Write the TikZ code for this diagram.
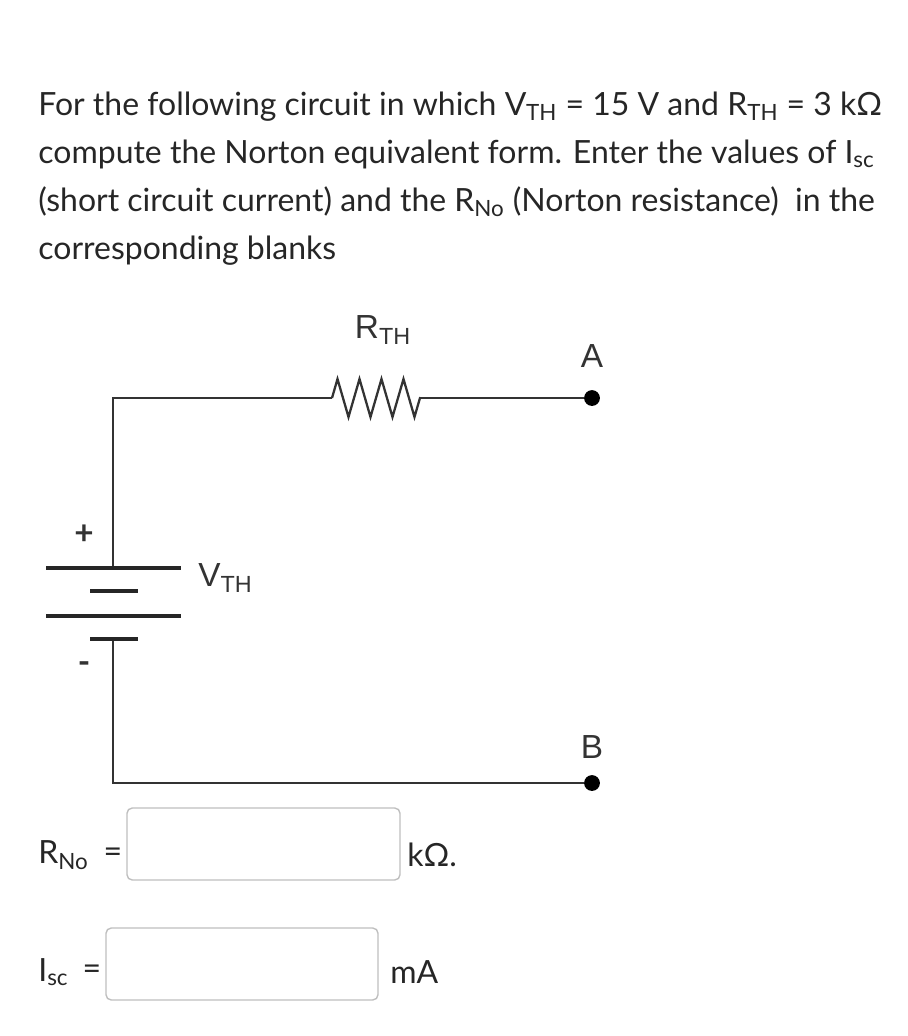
\documentclass[tikz,border=0pt]{standalone}
\usepackage{fontspec}
\setmainfont{Lato}
\newfontfamily\arialfont{Liberation Sans}
\usetikzlibrary{decorations.pathmorphing}

\begin{document}
\begin{tikzpicture}[x=0.02cm, y=-0.02cm]
        \tikzstyle{line} = [anchor=base west, inner sep=0pt, font=\fontsize{18.2}{22}\selectfont, text=black!85]
        \tikzstyle{lbl} = [inner sep=0pt, font=\fontsize{19}{22}\selectfont\arialfont, text=black!80]
        \tikzstyle{wire} = [line width=1.3pt, black!80]
        \tikzstyle{plate} = [line width=2.8pt, black!85]
        \tikzstyle{term} = [circle, fill=black, inner sep=0pt, minimum size=9pt]
        \tikzstyle{blank} = [draw=black!25, line width=0.8pt, rounded corners=3pt]
        \useasboundingbox (0,0) rectangle (908,1036);
        % question
        \node[line] (q1) at (38,115) {For the following circuit in which V\textsubscript{TH} = 15 V and R\textsubscript{TH} = 3 kΩ};
        \node[line] (q2) at (38,163) {compute the Norton equivalent form. Enter the values of I\textsubscript{sc}};
        \node[line] (q3) at (38,211) {(short circuit current) and the R\textsubscript{No} (Norton resistance)\ \ in the};
        \node[line] (q4) at (38,259) {corresponding blanks};
        % circuit
        \coordinate (tl) at (113,398);
        \coordinate (bl) at (113,783);
        \coordinate (r1) at (332,398);
        \coordinate (r2) at (420,398);
        \node[term] (A) at (592,398) {};
        \node[term] (B) at (592,783) {};
        \coordinate (p1) at (113,568);
        \coordinate (p4) at (113,639);
        \draw[wire] (p1) -- (tl) -- (r1);
        \draw[wire, decorate, decoration={zigzag, segment length=0.44cm, amplitude=0.38cm}] (r1) -- (r2);
        \draw[wire] (r2) -- (A);
        \draw[wire] (p4) -- (bl) -- (B);
        \draw[plate] (46,568) -- (181,568);
        \draw[plate] (90,591) -- (138,591);
        \draw[plate] (46,616) -- (181,616);
        \draw[plate] (90,639) -- (138,639);
        \node[lbl, font=\fontsize{19}{22}\selectfont\bfseries] (plus) at (84,535) {+};
        \node[lbl, font=\fontsize{19}{22}\selectfont\bfseries] (minus) at (84,668) {-};
        \node[lbl, anchor=west] (vth) at (198,578) {V\textsubscript{TH}};
        \node[lbl] (rth) at (383,330) {R\textsubscript{TH}};
        \node[lbl] (la) at (592,356) {A};
        \node[lbl] (lb) at (592,747) {B};
        % blanks
        \node[line, anchor=west] (rno) at (38,855) {R\textsubscript{No}};
        \node[line, anchor=center] (eq1) at (113,855) {=};
        \draw[blank] (127,808) rectangle (400,880);
        \node[line, anchor=west] (kohm) at (407,855) {kΩ.};
        \node[line, anchor=west] (isc) at (38,972) {I\textsubscript{sc}};
        \node[line, anchor=center] (eq2) at (92,972) {=};
        \draw[blank] (106,928) rectangle (378,1000);
        \node[line, anchor=west] (ma) at (390,972) {mA};
\end{tikzpicture}
\end{document}
